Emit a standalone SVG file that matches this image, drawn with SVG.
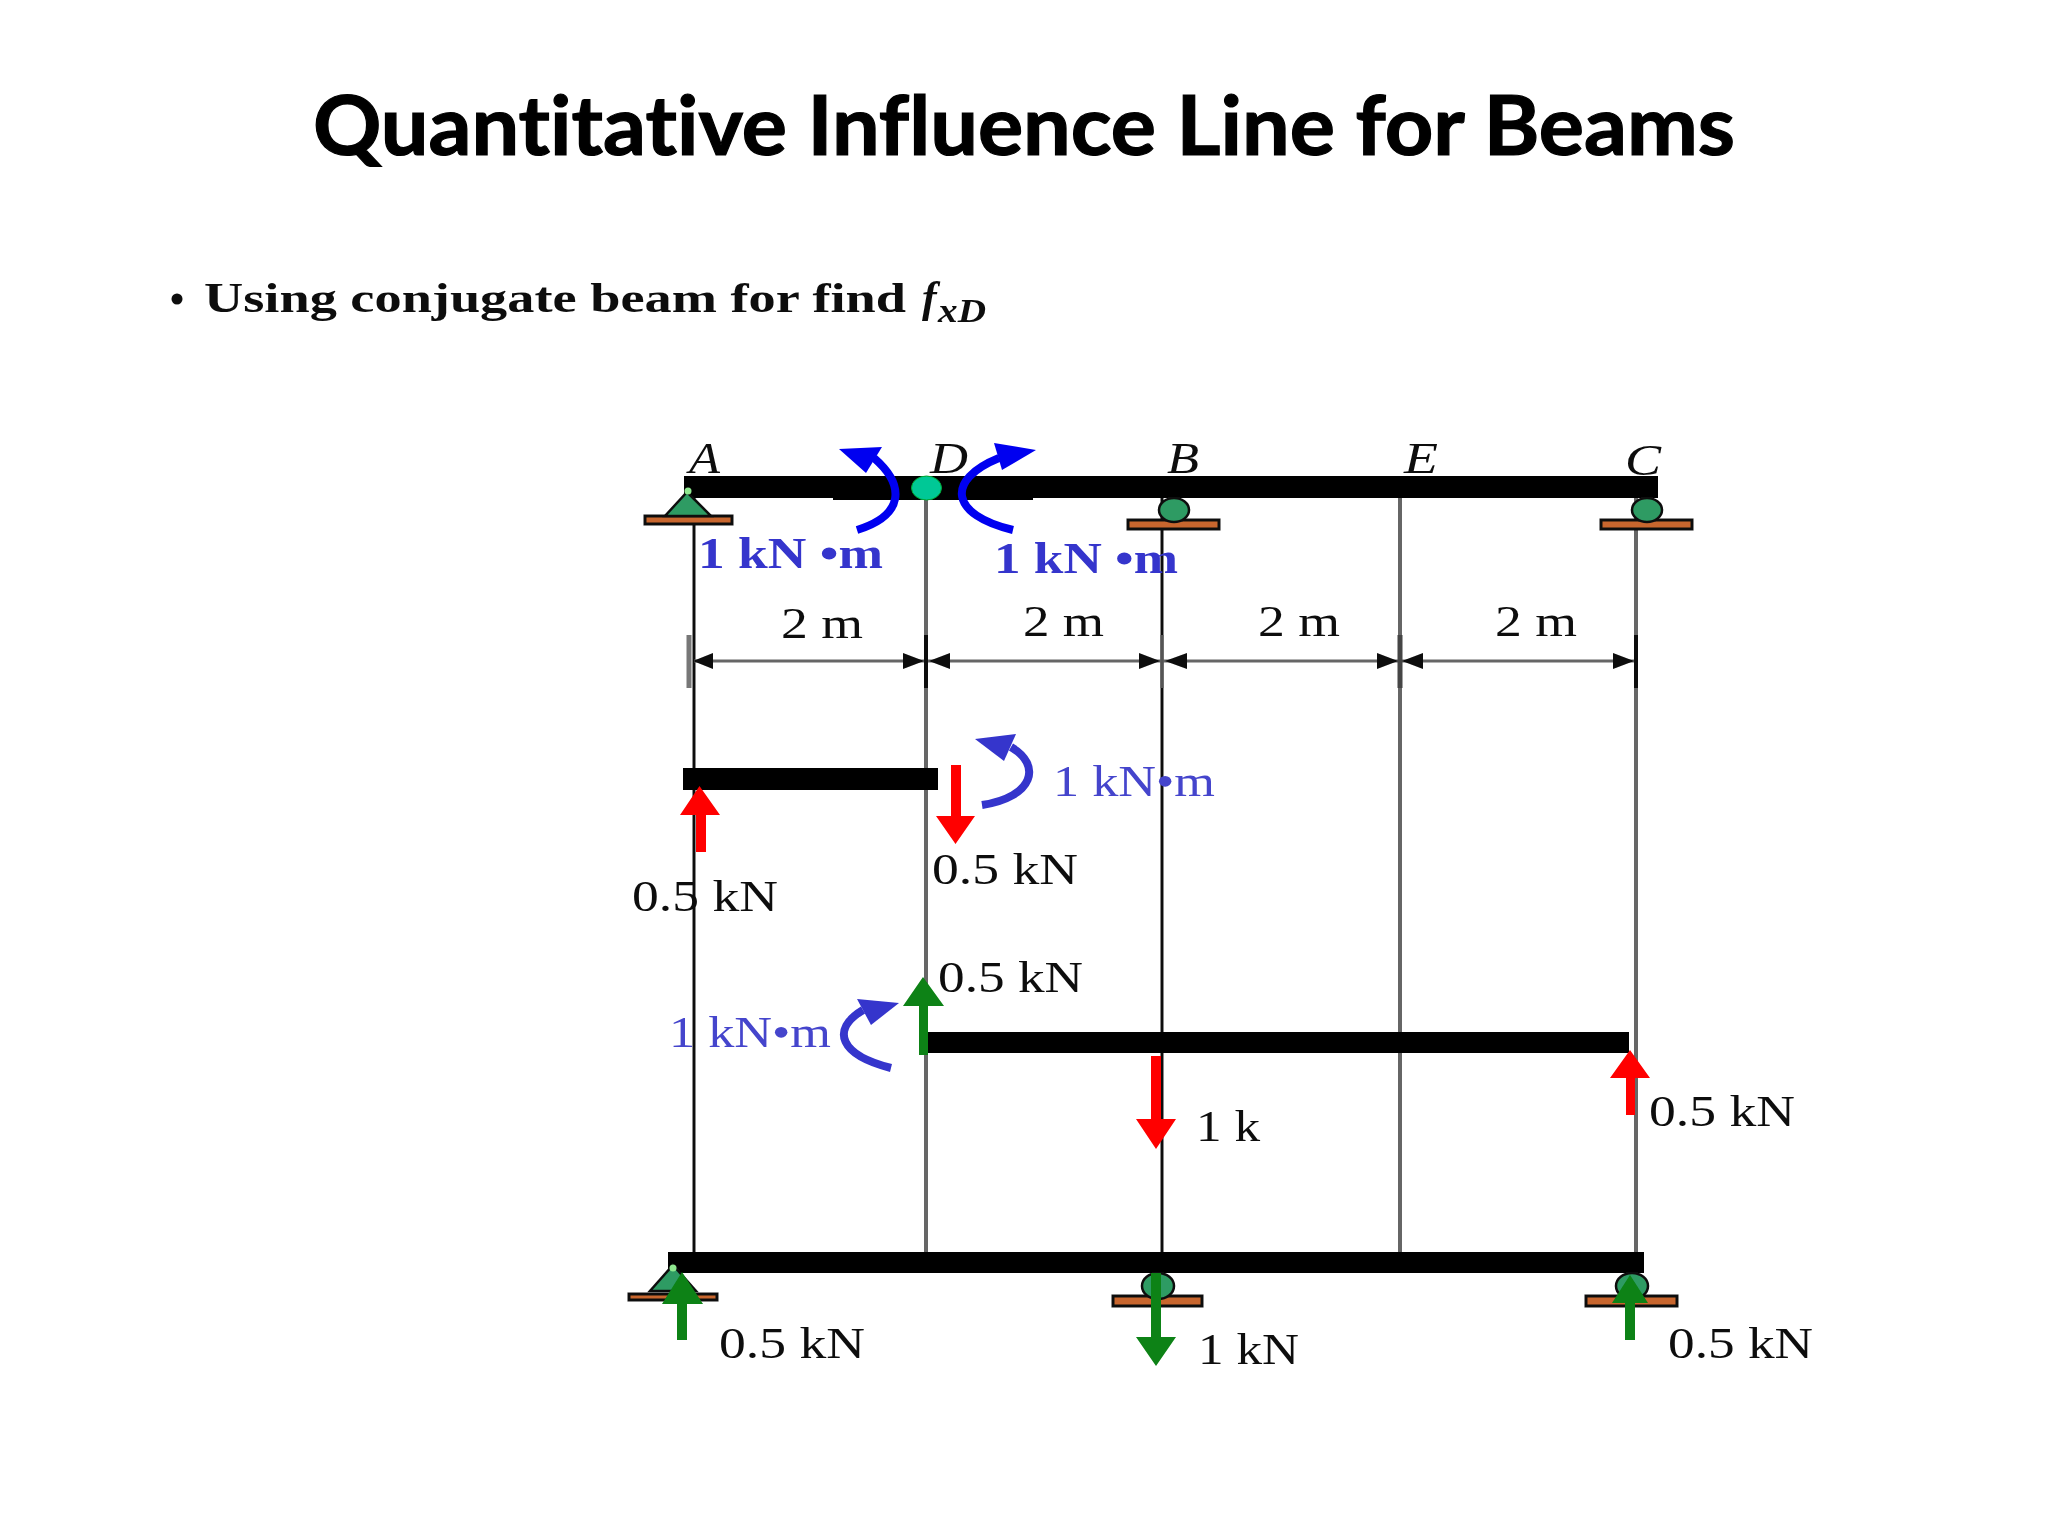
<svg xmlns="http://www.w3.org/2000/svg" width="2048" height="1536" viewBox="0 0 2048 1536">
<style>
text{font-family:"Liberation Serif","Times New Roman",serif;fill:#111}
.title{font-family:Lato,"Open Sans","Liberation Sans",sans-serif;font-weight:700;font-size:82px;fill:#000;stroke:#000;stroke-width:1.2;font-variant-ligatures:none}
.sub{font-weight:700;font-size:43px}
.subf{font-weight:700;font-style:italic;font-size:44px}
.subx{font-weight:700;font-style:italic;font-size:33px}
.lab{font-size:45px}
.pt{font-style:italic;font-size:45px}
.mb{font-weight:700;font-size:45px;fill:#3434cc}
.ml{font-size:45px;fill:#4444cc}
.beam{fill:#000}
.vl{stroke:#111;stroke-width:3;fill:none}
.vg{stroke:#666;stroke-width:4;fill:none}
.dim{stroke:#666;stroke-width:3;fill:none}
.tip{fill:#0a0a0a}
.plate{fill:#c8662f;stroke:#111;stroke-width:3}
.sup{fill:#2e9b63;stroke:#111;stroke-width:2.5}
.pin{fill:#8fe88f}
.red{fill:#ff0000}
.grn{fill:#0a8214}
.arc{fill:none;stroke:#0000f0;stroke-width:8}
.arc2{fill:none;stroke:#3434cc;stroke-width:8}
.hd{fill:#0000f0}
.hd2{fill:#3434cc}
</style>
<defs><filter id="soft" filterUnits="userSpaceOnUse" x="0" y="0" width="2048" height="1536"><feGaussianBlur stdDeviation="0.6"/></filter></defs>
<rect width="2048" height="1536" fill="#fff"/>
<text class="title" x="313" y="155" textLength="1422" lengthAdjust="spacingAndGlyphs">Quantitative Influence Line for Beams</text>
<g id="subtitle" filter="url(#soft)">
<circle cx="177" cy="299" r="5.500" fill="#111"/>
<text class="sub" x="204" y="312" textLength="702" lengthAdjust="spacingAndGlyphs">Using conjugate beam for find</text>
<text class="subf" x="922" y="312">f</text>
<text class="subx" x="938" y="322" textLength="48" lengthAdjust="spacingAndGlyphs">xD</text>
</g>
<g filter="url(#soft)">
<g id="connectors">
<path class="vl" d="M694 498V1252M1162 498V1252"/>
<path class="vg" d="M926 498V1252M1400 498V1252M1636 498V1252"/>
<path class="dim" d="M694 661H1636"/>
<path d="M689 635V688" stroke="#777" stroke-width="5"/>
<path d="M926 635V688M1636 635V688" stroke="#111" stroke-width="4"/>
<path d="M1162 635V688" stroke="#555" stroke-width="3"/>
<path d="M1400 635V688" stroke="#444" stroke-width="5"/>
<path class="tip" d="M693 661L713 653V669ZM924 661L903 653V669ZM929 661L950 653V669ZM1160 661L1139 653V669ZM1165 661L1187 653V669ZM1398 661L1377 653V669ZM1402 661L1423 653V669ZM1634 661L1613 653V669Z"/>
</g>
<g id="beam-top">
<rect class="beam" x="684" y="476" width="974" height="22"/>
<rect class="beam" x="833" y="490" width="200" height="10"/>
</g>
<g id="support-A">
<rect class="plate" x="645" y="516" width="87" height="8"/>
<path class="sup" d="M687 492L711 516H665Z"/>
<circle class="pin" cx="688" cy="491" r="3.500"/>
</g>
<g id="hinge-D"><ellipse cx="926.500" cy="488" rx="15" ry="12" fill="#00c896" stroke="#0a3" stroke-width="1"/></g>
<g id="support-B">
<rect class="plate" x="1128" y="520" width="91" height="9"/>
<ellipse class="sup" cx="1174" cy="510" rx="15" ry="12"/>
</g>
<g id="support-C">
<rect class="plate" x="1601" y="520" width="91" height="9"/>
<ellipse class="sup" cx="1647" cy="510" rx="15" ry="12"/>
</g>
<g id="moment-D-left">
<path class="arc" d="M857 530C905 515 905 485 874 458"/>
<path class="hd" d="M839 449L882 447L866 473Z"/>
<text class="mb" x="698" y="568" textLength="185" lengthAdjust="spacingAndGlyphs">1 kN •m</text>
</g>
<g id="moment-D-right">
<path class="arc" d="M1013 530C950 515 945 480 999 458"/>
<path class="hd" d="M994 443L1036 450L1002 470Z"/>
<text class="mb" x="994" y="573" textLength="184" lengthAdjust="spacingAndGlyphs">1 kN •m</text>
</g>
<g id="labels-points">
<text class="pt" x="689" y="473" textLength="31" lengthAdjust="spacingAndGlyphs">A</text>
<text class="pt" x="930" y="473" textLength="38" lengthAdjust="spacingAndGlyphs">D</text>
<text class="pt" x="1167" y="473" textLength="32" lengthAdjust="spacingAndGlyphs">B</text>
<text class="pt" x="1404" y="473" textLength="34" lengthAdjust="spacingAndGlyphs">E</text>
<text class="pt" x="1625" y="475" textLength="36" lengthAdjust="spacingAndGlyphs">C</text>
</g>
<g id="labels-spans">
<text class="lab" x="781" y="638" textLength="82" lengthAdjust="spacingAndGlyphs">2 m</text>
<text class="lab" x="1023" y="636" textLength="81" lengthAdjust="spacingAndGlyphs">2 m</text>
<text class="lab" x="1258" y="636" textLength="82" lengthAdjust="spacingAndGlyphs">2 m</text>
<text class="lab" x="1495" y="636" textLength="82" lengthAdjust="spacingAndGlyphs">2 m</text>
</g>
<g id="segment-AD">
<rect class="beam" x="683" y="768" width="255" height="22"/>
<path class="red" d="M699.500 786L720 815H706V852H696V815H680Z"/>
<path class="red" d="M951 765H961V816H975L955.500 844L936 816H951Z"/>
<path class="arc2" d="M982 805C1034 797 1042 765 1011 747"/>
<path class="hd2" d="M975 739L1016 734L1004 761Z"/>
<text class="ml" x="1053" y="796" textLength="162" lengthAdjust="spacingAndGlyphs">1 kN•m</text>
<text class="lab" x="632" y="911" textLength="146" lengthAdjust="spacingAndGlyphs">0.5 kN</text>
<text class="lab" x="932" y="884" textLength="146" lengthAdjust="spacingAndGlyphs">0.5 kN</text>
</g>
<g id="segment-DC">
<rect class="beam" x="928" y="1032" width="701" height="21"/>
<path class="grn" d="M923 977L944 1006H928V1055H919V1006H903Z"/>
<path class="arc2" d="M891 1068C840 1055 830 1030 863 1010"/>
<path class="hd2" d="M857 999L899 1003L871 1025Z"/>
<text class="ml" x="669" y="1047" textLength="162" lengthAdjust="spacingAndGlyphs">1 kN•m</text>
<text class="lab" x="938" y="992" textLength="145" lengthAdjust="spacingAndGlyphs">0.5 kN</text>
<path class="red" d="M1151 1056H1161V1119H1176L1156 1149L1136 1119H1151Z"/>
<text class="lab" x="1196" y="1141" textLength="64" lengthAdjust="spacingAndGlyphs">1 k</text>
<path class="red" d="M1630 1050L1650 1078H1635V1115H1626V1078H1610Z"/>
<text class="lab" x="1649" y="1126" textLength="146" lengthAdjust="spacingAndGlyphs">0.5 kN</text>
</g>
<g id="beam-bottom">
<rect class="beam" x="668" y="1252" width="976" height="21"/>
<rect class="plate" x="629" y="1294" width="88" height="6"/>
<path class="sup" d="M673 1265L696 1291H650Z"/>
<circle class="pin" cx="673" cy="1268" r="3.500"/>
<rect class="plate" x="1113" y="1296" width="89" height="10"/>
<ellipse class="sup" cx="1158" cy="1286" rx="16" ry="13"/>
<rect class="plate" x="1586" y="1296" width="91" height="10"/>
<ellipse class="sup" cx="1632" cy="1286" rx="16" ry="13"/>
</g>
<g id="reactions">
<path class="grn" d="M682 1272L703 1304H687V1340H677V1304H662Z"/>
<path class="grn" d="M1151 1273H1161V1337H1176L1156 1366L1136 1337H1151Z"/>
<path class="grn" d="M1630 1275L1648 1303H1635V1340H1625V1303H1612Z"/>
<text class="lab" x="719" y="1358" textLength="146" lengthAdjust="spacingAndGlyphs">0.5 kN</text>
<text class="lab" x="1198" y="1364" textLength="101" lengthAdjust="spacingAndGlyphs">1 kN</text>
<text class="lab" x="1668" y="1358" textLength="145" lengthAdjust="spacingAndGlyphs">0.5 kN</text>
</g>
</g>
</svg>
